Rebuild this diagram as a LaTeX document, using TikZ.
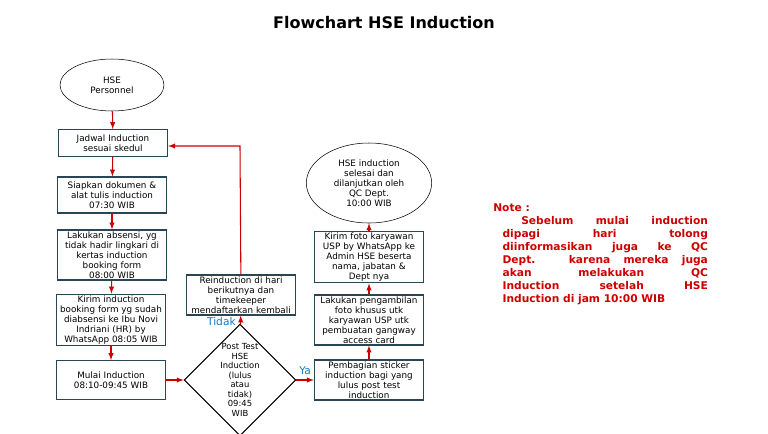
\documentclass[tikz,border=0pt]{standalone}
\usepackage{fontspec}
\setmainfont{DejaVu Sans}
\usetikzlibrary{arrows,shapes.geometric}
\definecolor{boxline}{RGB}{40,70,85}
\definecolor{flowred}{RGB}{204,0,0}
\definecolor{labelblue}{RGB}{20,120,200}

\begin{document}
\begin{tikzpicture}[x=0.75pt,y=-0.75pt,
  step box/.style={rectangle,draw=boxline,thick,align=center,text width=80pt,
    inner sep=1pt,font=\fontsize{6.6}{7.6}\selectfont},
  end node/.style={ellipse,draw,align=center,inner sep=0pt,font=\fontsize{6.6}{7.6}\selectfont},
  flow/.style={->,>=latex,draw=flowred,thick,shorten >= 0pt}]

  \useasboundingbox (0,0) rectangle (768,433);
  \node[font=\fontsize{12}{14}\selectfont\bfseries] (title) at (384,23) {Flowchart HSE Induction};

  \node[end node,minimum width=78pt,minimum height=39pt] (personnel) at (112,85) {HSE\\Personnel};
  \node[step box,minimum height=20pt] (jadwal) at (113,143) {Jadwal Induction\\sesuai skedul};
  \node[step box,minimum height=27pt] (siapkan) at (112,195) {Siapkan dokumen \&\\alat tulis induction\\07:30 WIB};
  \node[step box,minimum height=34pt] (absensi) at (112,255) {Lakukan absensi, yg\\tidak hadir lingkari di\\kertas induction\\booking form\\08:00 WIB};
  \node[step box,minimum height=34pt] (kirimform) at (111,320) {Kirim induction\\booking form yg sudah\\diabsensi ke Ibu Novi\\Indriani (HR) by\\WhatsApp 08:05 WIB};
  \node[step box,minimum height=29pt] (mulai) at (111,380) {Mulai Induction\\08:10-09:45 WIB};

  \node[diamond,draw,thick,minimum width=75pt,minimum height=71pt,inner sep=0pt,align=center,
    font=\fontsize{6.3}{7.1}\selectfont] (posttest) at (240,380) {Post Test\\HSE\\Induction\\(lulus\\atau\\tidak)\\09:45\\WIB};
  \node[step box,minimum height=30pt] (reinduction) at (241,295) {Reinduction di hari\\berikutnya dan\\timekeeper\\mendaftarkan kembali};

  \node[step box,minimum height=30pt] (sticker) at (369,380) {Pembagian sticker\\induction bagi yang\\lulus post test\\induction};
  \node[step box,minimum height=33pt] (foto) at (369,320) {Lakukan pengambilan\\foto khusus utk\\karyawan USP utk\\pembuatan gangway\\access card};
  \node[step box,minimum height=34pt] (kirimfoto) at (369,257) {Kirim foto karyawan\\USP by WhatsApp ke\\Admin HSE beserta\\nama, jabatan \&\\Dept nya};
  \node[end node,minimum width=94pt,minimum height=60pt] (selesai) at (369,183) {HSE induction\\selesai dan\\dilanjutkan oleh\\QC Dept.\\10:00 WIB};

  \coordinate (loop) at (240,146);

  % main flow
  \draw[flow] (personnel) -- (jadwal);
  \draw[flow] (jadwal) -- (siapkan);
  \draw[flow] (siapkan) -- (absensi);
  \draw[flow] (absensi) -- (kirimform);
  \draw[flow] (kirimform) -- (mulai);
  \draw[flow] (mulai) -- (posttest);
  \draw[flow] (posttest) -- node[above,text=labelblue,font=\fontsize{8}{9}\selectfont] (ya) {Ya} (sticker);
  \draw[flow] (posttest) -- node[left,text=labelblue,font=\fontsize{8}{9}\selectfont,pos=0.3] (tidak) {Tidak} (reinduction);
  \draw[flow] (reinduction) -- (loop) -- (jadwal.east |- loop);
  \draw[flow] (sticker) -- (foto);
  \draw[flow] (foto) -- (kirimfoto);
  \draw[flow] (kirimfoto) -- (selesai);

  \node[anchor=north west,text=flowred,font=\fontsize{8}{9.8}\selectfont\bfseries,
    inner sep=0pt,align=left] (note) at (493,203)
    {Note :\\
     \hspace*{21pt}\makebox[140pt][s]{Sebelum mulai induction}\\
     \hspace*{7pt}\makebox[154pt][s]{dipagi hari tolong}\\
     \hspace*{7pt}\makebox[154pt][s]{diinformasikan juga ke QC}\\
     \hspace*{7pt}\makebox[154pt][s]{Dept. karena mereka juga}\\
     \hspace*{7pt}\makebox[154pt][s]{akan melakukan QC}\\
     \hspace*{7pt}\makebox[154pt][s]{Induction setelah HSE}\\
     \hspace*{7pt}Induction di jam 10:00 WIB};
\end{tikzpicture}
\end{document}
